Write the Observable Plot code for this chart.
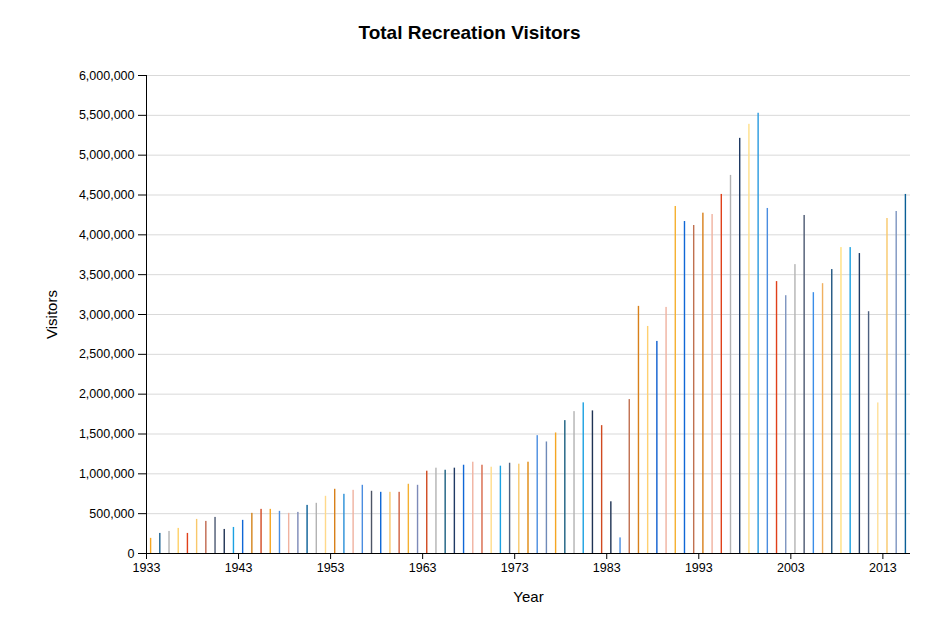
<!DOCTYPE html>
<html>
<head>
<meta charset="utf-8">
<script src="https://cdn.jsdelivr.net/npm/d3@7"></script>
<script src="https://cdn.jsdelivr.net/npm/@observablehq/plot@0.6"></script>
<style>
  html, body { margin: 0; padding: 0; background: #fff; }
  #title { height: 27px; padding-top: 23px; width: 939px; text-align: center;
    font-family: "Liberation Sans", Arial, sans-serif; font-weight: bold; font-size: 19px;
    line-height: 20px; color: #000; }
</style>
</head>
<body>
<div id="title">Total Recreation Visitors</div>
<div id="chart"></div>
<script>
const years = [1933,1934,1935,1936,1937,1938,1939,1940,1941,1942,1943,1944,1945,1946,1947,1948,1949,1950,1951,1952,
  1953,1954,1955,1956,1957,1958,1959,1960,1961,1962,1963,1964,1965,1966,1967,1968,1969,1970,1971,1972,
  1973,1974,1975,1976,1977,1978,1979,1980,1981,1982,1983,1984,1985,1986,1987,1988,1989,1990,1991,1992,
  1993,1994,1995,1996,1997,1998,1999,2000,2001,2002,2003,2004,2005,2006,2007,2008,2009,2010,2011,2012,
  2013,2014,2015];

const visitors = [190000,252000,277000,315000,252000,428000,403000,453000,302000,327000,
  416000,504000,554000,554000,529000,504000,516000,604000,630000,718000,
  806000,743000,793000,856000,781000,768000,768000,768000,869000,856000,
  1033000,1071000,1045000,1071000,1108000,1146000,1108000,1083000,1096000,1133000,
  1121000,1146000,1479000,1400000,1513000,1668000,1781000,1891000,1790000,1605000,
  649000,196000,1932000,3102000,2850000,2662000,3089000,4356000,4167000,4117000,
  4272000,4255000,4507000,4746000,5211000,5387000,5526000,4331000,3413000,3236000,
  3626000,4243000,3274000,3387000,3564000,3840000,3840000,3765000,3035000,1890000,
  4205000,4293000,4507000];

const xTicks = [1933,1943,1953,1963,1973,1983,1993,2003,2013];
const yTicks = [0,500000,1000000,1500000,2000000,2500000,3000000,3500000,4000000,4500000,5000000,5500000,6000000];

// styling: one colour per bar, in year order
const barColors = ["#f5a623","#1f6391","#b3b3b3","#ffd166","#e0401a","#f8c86b","#c0694f","#4d5a73","#1f3354","#1ba1e2",
  "#0f67d6","#d4841c","#d24a23","#f5a623","#4a8de0","#f0b2a0","#7d8ab8","#0a5f96","#b3b3b3","#ffd98a",
  "#d8801a","#2a8fd8","#f0b2a0","#4a8de0","#4d5566","#0f67d6","#f8c86b","#d06040","#f5b030","#7d8ab8",
  "#d04a20","#b3b3b3","#1a5f80","#1f3a64","#0f67d6","#f0b2a0","#d8694a","#ffdc8a","#1ba1e2","#4d6080",
  "#f8c86b","#e08a10","#4a8de0","#6f8ab8","#f5a623","#1a5f80","#b3b3b3","#1ba1e2","#1f3354","#d04a20",
  "#1f3354","#4a8de0","#c07050","#d8801a","#ffd070","#0f5fd0","#f0b2a0","#f5b030","#0f67d6","#c07050",
  "#d8801a","#f0b2a0","#e0401a","#b3b3b3","#1f3a64","#ffe08a","#2a9be0","#4a8de0","#e0401a","#7d95c0",
  "#b3b3b3","#4d5a73","#3a8de8","#f0b060","#1f5580","#ffe080","#1ba1e2","#1f3a64","#4d6080","#ffe09a",
  "#f8c86b","#7d95c0","#0a5f96"];

const data = years.map((year, i) => ({year, visitors: visitors[i]}));

const chart = Plot.plot({
  width: 939,
  height: 583,
  marginTop: 25,
  marginRight: 29,
  marginBottom: 80,
  marginLeft: 146,
  style: {fontFamily: "'Liberation Sans', Arial, sans-serif", fontSize: "12.5px", color: "#000", background: "#fff"},
  x: {domain: [1933, 2016], ticks: xTicks, tickFormat: d => String(d), label: null, tickSize: 6, tickPadding: 4},
  y: {domain: [0, 6000000], ticks: yTicks, tickFormat: d3.format(","), label: null, tickSize: 8, tickPadding: 4},
  color: {type: "ordinal", domain: years, range: barColors},
  marks: [
    Plot.gridY(yTicks, {stroke: "#d9d9d9", strokeOpacity: 1}),
    Plot.rectY(data, {x: "year", y: "visitors", interval: 1, fill: "year", insetLeft: 3.9, insetRight: 3.9}),
    Plot.ruleX([1933], {stroke: "#000"}),
    Plot.ruleY([0], {stroke: "#000"}),
    Plot.text(["Visitors"], {frameAnchor: "left", rotate: -90, dx: -94, textAnchor: "middle", lineAnchor: "middle", fontSize: 15, fill: "#000"}),
    Plot.text(["Year"], {frameAnchor: "bottom", dy: 44, lineAnchor: "middle", textAnchor: "middle", fontSize: 15, fill: "#000"})
  ]
});
document.getElementById("chart").appendChild(chart);
</script>
</body>
</html>
